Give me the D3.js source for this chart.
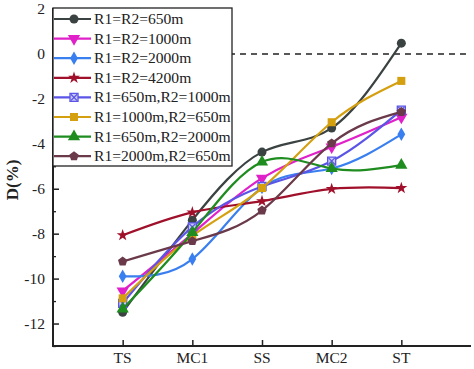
<!DOCTYPE html>
<html><head><meta charset="utf-8">
<script src="https://cdn.jsdelivr.net/npm/d3@7"></script>
<style>body{margin:0;background:#fff}svg{display:block}</style>
</head><body>
<svg id="c" width="474" height="369"></svg>
<script>
const categories = ["TS","MC1","SS","MC2","ST"];
const seriesNames = ["R1=R2=650m","R1=R2=1000m","R1=R2=2000m","R1=R2=4200m","R1=650m,R2=1000m","R1=1000m,R2=650m","R1=650m,R2=2000m","R1=2000m,R2=650m"];
const s650 = [-11.5,-7.4,-4.37,-3.3,0.48];
const s1000 = [-10.55,-8.0,-5.53,-4.14,-2.82];
const s2000 = [-9.9,-9.13,-5.95,-5.1,-3.58];
const s4200 = [-8.07,-7.05,-6.55,-6.01,-5.97];
const s650_1000 = [-11.1,-7.7,-5.9,-4.77,-2.5];
const s1000_650 = [-10.88,-8.1,-5.97,-3.04,-1.2];
const s650_2000 = [-11.35,-7.95,-4.81,-5.1,-4.95];
const s2000_650 = [-9.24,-8.33,-6.97,-3.98,-2.58];
const yTicks = [2,0,-2,-4,-6,-8,-10,-12];

const seriesValues = [s650,s1000,s2000,s4200,s650_1000,s1000_650,s650_2000,s2000_650];
const colors = ["#3b4242","#e020c8","#3a7ff0","#a0102a","#5a55e6","#d4a010","#1e8c1e","#6b3a4a"];
const shapes = ["circle","tridown","diamond","star","squarex","square","triangle","pentagon"];

const svg = d3.select("#c");
const L=53, R=471, T=9, B=346;
const x = d3.scaleLinear().domain([0,6]).range([L,R]);
const y = d3.scaleLinear().domain([-13,2]).range([B,T]);
const font = "'Liberation Serif','Times New Roman',serif";

svg.append("line").attr("x1",L).attr("x2",R).attr("y1",y(0)).attr("y2",y(0))
  .attr("stroke","#222").attr("stroke-width",1.5).attr("stroke-dasharray","6,5");

function markerPath(shape, r){
  let sym;
  switch(shape){
    case "circle": sym=d3.symbol(d3.symbolCircle, Math.PI*r*r); break;
    case "diamond": sym=d3.symbol(d3.symbolDiamond, r*r*2.6); break;
    case "star": sym=d3.symbol(d3.symbolStar, r*r*2.2); break;
    case "square": case "squarex": sym=d3.symbol(d3.symbolSquare, r*r*3.2); break;
    case "triangle": case "tridown": sym=d3.symbol(d3.symbolTriangle, r*r*3.2); break;
    case "pentagon": {
      const pts=d3.range(5).map(i=>{const a=-Math.PI/2+i*2*Math.PI/5;return [r*1.1*Math.cos(a), r*1.1*Math.sin(a)];});
      return "M"+pts.map(p=>p.join(",")).join("L")+"Z";
    }
  }
  return sym();
}
function drawMarker(g, shape, cx, cy, color, r){
  const p = g.append("path").attr("d", markerPath(shape,r)).attr("fill",color)
    .attr("transform", `translate(${cx},${cy})` + (shape==="tridown"?" rotate(180)":""));
  if(shape==="squarex"){
    p.attr("fill","#c8c8f8").attr("stroke",color).attr("stroke-width",1.3);
    const h=r*0.7;
    g.append("path").attr("d",`M${cx-h},${cy-h}L${cx+h},${cy+h}M${cx-h},${cy+h}L${cx+h},${cy-h}`)
      .attr("stroke",color).attr("stroke-width",1.2);
  }
}

const line = d3.line().x((d,i)=>x(i+1)).y(d=>y(d)).curve(d3.curveNatural);
seriesValues.forEach((vals,k)=>{
  const g = svg.append("g");
  g.append("path").datum(vals).attr("d",line).attr("fill","none")
    .attr("stroke",colors[k]).attr("stroke-width",2.2);
  vals.forEach((v,i)=>drawMarker(g, shapes[k], x(i+1), y(v), colors[k], 4.5));
});

const yAxis = d3.axisRight(y).tickValues(yTicks).tickSize(6).tickFormat("");
const gy = svg.append("g").attr("transform",`translate(${L},0)`).call(yAxis);
gy.select(".domain").remove();
gy.selectAll("line").attr("stroke","#222").attr("stroke-width",1.5);
const minor = d3.axisRight(y).tickValues(d3.range(-13,2,2)).tickSize(3).tickFormat("");
const gm = svg.append("g").attr("transform",`translate(${L},0)`).call(minor);
gm.select(".domain").remove();
gm.selectAll("line").attr("stroke","#222").attr("stroke-width",1.3);
svg.append("g").selectAll("text").data(yTicks).join("text")
  .attr("x",L-8).attr("y",d=>y(d)+5).attr("text-anchor","end")
  .attr("font-family",font).attr("font-size",15.5).attr("fill","#222").text(d=>d);

const xAxis = d3.axisTop(x).tickValues([1,2,3,4,5]).tickSize(6).tickFormat("");
const gx = svg.append("g").attr("transform",`translate(0,${B})`).call(xAxis);
gx.select(".domain").remove();
gx.selectAll("line").attr("stroke","#222").attr("stroke-width",1.5);
svg.append("g").selectAll("text").data(categories).join("text")
  .attr("x",(d,i)=>x(i+1)).attr("y",B+17).attr("text-anchor","middle")
  .attr("font-family",font).attr("font-size",15.5).attr("fill","#222").text(d=>d);

svg.append("line").attr("x1",L).attr("x2",L).attr("y1",T-1).attr("y2",B+1).attr("stroke","#222").attr("stroke-width",2);
svg.append("line").attr("x1",L-1).attr("x2",R).attr("y1",B).attr("y2",B).attr("stroke","#222").attr("stroke-width",2);

svg.append("text").attr("transform","translate(18,180) rotate(-90)").attr("text-anchor","middle")
  .attr("font-family",font).attr("font-weight","bold").attr("font-size",17).attr("fill","#222").text("D(%)");

const lg = svg.append("g");
lg.append("rect").attr("x",L).attr("y",T-1).attr("width",179).attr("height",158)
  .attr("fill","#fff").attr("stroke","#222").attr("stroke-width",1.3);
seriesNames.forEach((n,k)=>{
  const ly = 19 + k*19.6;
  lg.append("line").attr("x1",L+1).attr("x2",91).attr("y1",ly).attr("y2",ly)
    .attr("stroke",colors[k]).attr("stroke-width",2.2);
  drawMarker(lg, shapes[k], 74, ly, colors[k], 4.5);
  lg.append("text").attr("x",94).attr("y",ly+5).attr("font-family",font).attr("font-size",15.6)
    .attr("fill","#222").text(n);
});
</script>
</body></html>
